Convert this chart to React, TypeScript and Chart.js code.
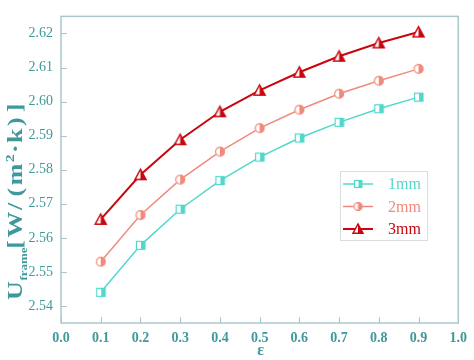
import React, { useEffect, useRef } from "react";
import { Chart, registerables } from "chart.js";

Chart.register(...registerables);

const epsilon = [0.1, 0.2, 0.3, 0.4, 0.5, 0.6, 0.7, 0.8, 0.9];
const u1mm = [2.544, 2.5578, 2.5684, 2.5768, 2.5837, 2.5893, 2.5939, 2.5979, 2.6013];
const u2mm = [2.553, 2.5667, 2.5771, 2.5853, 2.5922, 2.5976, 2.6023, 2.6061, 2.6096];
const u3mm = [2.5654, 2.5785, 2.5888, 2.597, 2.6033, 2.6086, 2.6133, 2.6172, 2.6204];
const seriesLabels = ["1mm", "2mm", "3mm"];
const xTicks = [0, 0.1, 0.2, 0.3, 0.4, 0.5, 0.6, 0.7, 0.8, 0.9, 1.0];
const yTicks = [2.54, 2.55, 2.56, 2.57, 2.58, 2.59, 2.6, 2.61, 2.62];

const C1 = "#52d8cb";
const C2 = "#f28a7c";
const C3 = "#c9060f";
const TEXT = "#3f999c";
const AXIS = "#abc7cb";
const SERIF = '"Liberation Serif", "Times New Roman", serif';

function makeMarker(kind: string, color: string, size: number) {
  const pad = 2;
  const c = document.createElement("canvas");
  c.width = size + pad * 2;
  c.height = size + pad * 2;
  const ctx = c.getContext("2d")!;
  ctx.lineWidth = 1.2;
  ctx.strokeStyle = color;
  ctx.fillStyle = color;
  const cx = c.width / 2;
  const cy = c.height / 2;
  const h = size / 2;
  if (kind === "square") {
    ctx.fillStyle = "#fff";
    ctx.fillRect(cx - h, cy - h, size, size);
    ctx.fillStyle = color;
    ctx.fillRect(cx + 0.5, cy - h, h, size);
    ctx.strokeRect(cx - h + 0.5, cy - h + 0.5, size - 1, size - 1);
  } else if (kind === "circle") {
    ctx.beginPath();
    ctx.arc(cx, cy, h, 0, Math.PI * 2);
    ctx.fillStyle = "#fff";
    ctx.fill();
    ctx.beginPath();
    ctx.arc(cx, cy, h, -Math.PI / 2, Math.PI / 2);
    ctx.closePath();
    ctx.fillStyle = color;
    ctx.fill();
    ctx.beginPath();
    ctx.arc(cx, cy, h - 0.6, 0, Math.PI * 2);
    ctx.stroke();
  } else {
    const top = cy - h;
    const bot = cy + h * 0.85;
    ctx.beginPath();
    ctx.moveTo(cx, top);
    ctx.lineTo(cx + h, bot);
    ctx.lineTo(cx - h, bot);
    ctx.closePath();
    ctx.fillStyle = "#fff";
    ctx.fill();
    ctx.beginPath();
    ctx.moveTo(cx, top);
    ctx.lineTo(cx + h, bot);
    ctx.lineTo(cx, bot);
    ctx.closePath();
    ctx.fillStyle = color;
    ctx.fill();
    ctx.beginPath();
    ctx.moveTo(cx, top);
    ctx.lineTo(cx + h, bot);
    ctx.lineTo(cx - h, bot);
    ctx.closePath();
    ctx.lineWidth = 1.5;
    ctx.stroke();
  }
  return c;
}

export default function App() {
  const ref = useRef<HTMLCanvasElement | null>(null);

  useEffect(() => {
    if (!ref.current) return;
    const m1 = makeMarker("square", C1, 9);
    const m2 = makeMarker("circle", C2, 10);
    const m3 = makeMarker("triangle", C3, 11);
    const lm1 = makeMarker("square", C1, 8);
    const lm2 = makeMarker("circle", C2, 9);
    const lm3 = makeMarker("triangle", C3, 10);

    const deco = {
      id: "deco",
      afterDraw(chart: any) {
        const ctx = chart.ctx as CanvasRenderingContext2D;
        const a = chart.chartArea;
        const xs = chart.scales.x;
        const ys = chart.scales.y;
        ctx.save();
        // frame
        ctx.strokeStyle = AXIS;
        ctx.lineWidth = 1.5;
        ctx.strokeRect(a.left, a.top, a.right - a.left, a.bottom - a.top);
        // inward ticks
        ctx.lineWidth = 1;
        ctx.beginPath();
        xTicks.forEach((v) => {
          const px = Math.round(xs.getPixelForValue(v)) + 0.5;
          ctx.moveTo(px, a.bottom);
          ctx.lineTo(px, a.bottom - 6);
        });
        yTicks.forEach((v) => {
          const py = Math.round(ys.getPixelForValue(v)) + 0.5;
          ctx.moveTo(a.left, py);
          ctx.lineTo(a.left + 6, py);
        });
        ctx.stroke();

        // x title
        ctx.fillStyle = TEXT;
        ctx.font = `bold 16px ${SERIF}`;
        ctx.textAlign = "center";
        ctx.textBaseline = "middle";
        ctx.fillText("ε", (a.left + a.right) / 2 + 1, 351);

        // y title
        ctx.save();
        ctx.translate(22, 300);
        ctx.rotate(-Math.PI / 2);
        ctx.scale(1.3, 1);
        ctx.textAlign = "left";
        ctx.textBaseline = "alphabetic";
        const pieces = [
          { t: "U", f: `bold 20px ${SERIF}`, dy: 0, g: 0 },
          { t: "frame", f: `bold 10px ${SERIF}`, dy: 5, g: 0.5 },
          { t: "[", f: `bold 20px ${SERIF}`, dy: 0, g: -1 },
          { t: "W", f: `bold 20px ${SERIF}`, dy: 0, g: 2 },
          { t: "/", f: `bold 20px ${SERIF}`, dy: 0, g: 1 },
          { t: "(", f: `bold 20px ${SERIF}`, dy: 0, g: 5 },
          { t: "m", f: `bold 20px ${SERIF}`, dy: 0, g: 2 },
          { t: "2", f: `bold 12px ${SERIF}`, dy: -8, g: 1 },
          { t: "·", f: `bold 20px ${SERIF}`, dy: 0, g: 1 },
          { t: "k", f: `bold 20px ${SERIF}`, dy: 0, g: 1 },
          { t: ")", f: `bold 20px ${SERIF}`, dy: 0, g: 2 },
          { t: "]", f: `bold 20px ${SERIF}`, dy: 0, g: 4 },
        ];
        let x = 0;
        pieces.forEach((p) => {
          x += p.g;
          ctx.font = p.f;
          ctx.fillText(p.t, x, p.dy);
          x += ctx.measureText(p.t).width;
        });
        ctx.restore();

        // legend
        const lx = 340.5;
        const ly = 171.5;
        ctx.fillStyle = "#ffffff";
        ctx.fillRect(lx, ly, 87, 69);
        ctx.strokeStyle = "#d9dede";
        ctx.lineWidth = 1;
        ctx.strokeRect(lx, ly, 87, 69);
        const items = [
          { c: C1, m: lm1, w: 1.5 },
          { c: C2, m: lm2, w: 1.5 },
          { c: C3, m: lm3, w: 2 },
        ];
        ctx.textAlign = "left";
        ctx.textBaseline = "middle";
        ctx.font = `16px ${SERIF}`;
        items.forEach((it, i) => {
          const yy = 184 + i * 22.5;
          ctx.strokeStyle = it.c;
          ctx.lineWidth = it.w;
          ctx.beginPath();
          ctx.moveTo(343, yy);
          ctx.lineTo(373, yy);
          ctx.stroke();
          ctx.drawImage(it.m, 358 - it.m.width / 2, yy - it.m.height / 2);
          ctx.fillStyle = it.c;
          ctx.fillText(seriesLabels[i], 388, yy + 1);
        });
        ctx.restore();
      },
    };

    const mk = (data: number[], color: string, marker: HTMLCanvasElement, w: number, label: string) => ({
      label,
      data: epsilon.map((e, i) => ({ x: e, y: data[i] })),
      borderColor: color,
      backgroundColor: color,
      borderWidth: w,
      pointStyle: marker as any,
      pointRadius: 5,
      tension: 0,
    });

    const chart = new Chart(ref.current, {
      type: "line",
      data: {
        datasets: [
          mk(u1mm, C1, m1, 1.5, seriesLabels[0]),
          mk(u2mm, C2, m2, 1.5, seriesLabels[1]),
          mk(u3mm, C3, m3, 2, seriesLabels[2]),
        ],
      },
      options: {
        responsive: false,
        animation: false,
        devicePixelRatio: 1,
        layout: { padding: { left: 0, right: 14, top: 4, bottom: 0 } },
        plugins: { legend: { display: false }, tooltip: { enabled: false } },
        scales: {
          x: {
            type: "linear",
            min: 0,
            max: 1,
            border: { display: false },
            grid: { display: false, drawTicks: false },
            afterBuildTicks: (s: any) => {
              s.ticks = xTicks.map((v) => ({ value: v }));
            },
            afterFit: (s: any) => {
              s.height = 37;
            },
            ticks: {
              padding: 7,
              color: TEXT,
              font: { family: SERIF, size: 14, weight: "bold" },
              callback: (v: any) => Number(v).toFixed(1),
              maxRotation: 0,
              autoSkip: false,
            },
          },
          y: {
            type: "linear",
            min: 2.535,
            max: 2.625,
            border: { display: false },
            grid: { display: false, drawTicks: false },
            afterBuildTicks: (s: any) => {
              s.ticks = yTicks.map((v) => ({ value: v }));
            },
            afterFit: (s: any) => {
              s.width = 61;
            },
            ticks: {
              padding: 8,
              color: TEXT,
              font: { family: SERIF, size: 14 },
              callback: (v: any) => Number(v).toFixed(2),
              autoSkip: false,
            },
          },
        },
      },
      plugins: [deco],
    } as any);
    return () => chart.destroy();
  }, []);

  return (
    <div style={{ position: "absolute", left: 0, top: 0, width: 474, height: 360, background: "#fff" }}>
      <canvas ref={ref} width={474} height={360} style={{ width: 474, height: 360 }} />
    </div>
  );
}
